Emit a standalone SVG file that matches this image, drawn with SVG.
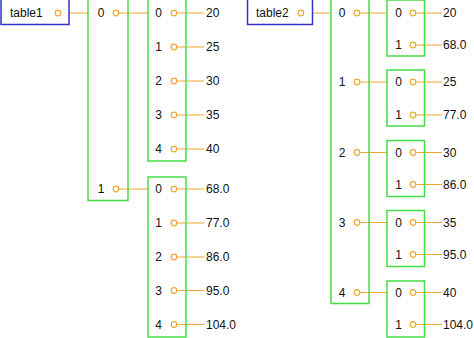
<svg xmlns="http://www.w3.org/2000/svg" width="474" height="338" viewBox="0 0 474 338">
<style>
text{font-family:"Liberation Sans",Arial,sans-serif;font-size:12px;fill:#111}
.m{text-anchor:middle}
.g{fill:none;stroke:#44dd44;stroke-width:1.5}
.b{fill:#fff;stroke:#3333cc;stroke-width:1.5}
.e{stroke:#f0a830;stroke-width:1.2;fill:none}
.c{fill:#fff;stroke:#f0a830;stroke-width:1.2}
</style>
<rect width="474" height="338" fill="#fff"/>
<g id="connectors">
<path class="e" d="M60.8 13H88M118.8 13H148M118.8 189H148"/>
<path class="e" d="M176.8 13H204M176.8 47H204M176.8 81H204M176.8 115H204M176.8 149H204"/>
<path class="e" d="M176.8 189H204M176.8 223H204M176.8 257H204M176.8 290.5H204M176.8 324.5H204"/>
<path class="e" d="M303.8 13H331M359.8 13H387M359.8 82H387M359.8 152.5H387M359.8 222.5H387M359.8 292.5H387"/>
<path class="e" d="M415.8 13H442M415.8 45H442M415.8 82H442M415.8 115H442M415.8 152.5H442M415.8 184.5H442M415.8 222.5H442M415.8 254.5H442M415.8 292.5H442M415.8 324.5H442"/>
</g>
<g id="table1">
<rect class="b" x="1" y="-2" width="68" height="26.5"/>
<text x="10" y="17">table1</text>
<circle class="c" cx="58" cy="13" r="2.8"/>
</g>
<g id="t1_list">
<rect class="g" x="88" y="-2" width="40" height="202.5"/>
<text class="m" x="101" y="17">0</text><circle class="c" cx="116" cy="13" r="2.8"/>
<text class="m" x="101" y="193">1</text><circle class="c" cx="116" cy="189" r="2.8"/>
</g>
<g id="t1_row0">
<rect class="g" x="148" y="-2" width="38" height="163"/>
<text class="m" x="158.5" y="17">0</text><circle class="c" cx="174" cy="13" r="2.8"/>
<text class="m" x="158.5" y="51">1</text><circle class="c" cx="174" cy="47" r="2.8"/>
<text class="m" x="158.5" y="85">2</text><circle class="c" cx="174" cy="81" r="2.8"/>
<text class="m" x="158.5" y="119">3</text><circle class="c" cx="174" cy="115" r="2.8"/>
<text class="m" x="158.5" y="153">4</text><circle class="c" cx="174" cy="149" r="2.8"/>
</g>
<g id="t1_row1">
<rect class="g" x="148" y="177" width="38" height="160"/>
<text class="m" x="158.5" y="193">0</text><circle class="c" cx="174" cy="189" r="2.8"/>
<text class="m" x="158.5" y="227">1</text><circle class="c" cx="174" cy="223" r="2.8"/>
<text class="m" x="158.5" y="261">2</text><circle class="c" cx="174" cy="257" r="2.8"/>
<text class="m" x="158.5" y="294.5">3</text><circle class="c" cx="174" cy="290.5" r="2.8"/>
<text class="m" x="158.5" y="328.5">4</text><circle class="c" cx="174" cy="324.5" r="2.8"/>
</g>
<g id="t1_values">
<text x="206" y="17">20</text>
<text x="206" y="51">25</text>
<text x="206" y="85">30</text>
<text x="206" y="119">35</text>
<text x="206" y="153">40</text>
<text x="206" y="193">68.0</text>
<text x="206" y="227">77.0</text>
<text x="206" y="261">86.0</text>
<text x="206" y="294.5">95.0</text>
<text x="206" y="328.5">104.0</text>
</g>
<g id="table2">
<rect class="b" x="247.5" y="-2" width="65" height="26.5"/>
<text x="256" y="17">table2</text>
<circle class="c" cx="301" cy="13" r="2.8"/>
</g>
<g id="t2_list">
<rect class="g" x="331" y="-2" width="38" height="305.5"/>
<text class="m" x="342" y="17">0</text><circle class="c" cx="357" cy="13" r="2.8"/>
<text class="m" x="342" y="86">1</text><circle class="c" cx="357" cy="82" r="2.8"/>
<text class="m" x="342" y="156.5">2</text><circle class="c" cx="357" cy="152.5" r="2.8"/>
<text class="m" x="342" y="226.5">3</text><circle class="c" cx="357" cy="222.5" r="2.8"/>
<text class="m" x="342" y="296.5">4</text><circle class="c" cx="357" cy="292.5" r="2.8"/>
</g>
<g id="t2_row0">
<rect class="g" x="387" y="0" width="37.5" height="56"/>
<text class="m" x="398.5" y="17">0</text><circle class="c" cx="413" cy="13" r="2.8"/>
<text class="m" x="398.5" y="49">1</text><circle class="c" cx="413" cy="45" r="2.8"/>
</g>
<g id="t2_row1">
<rect class="g" x="387" y="70" width="37.5" height="56"/>
<text class="m" x="398.5" y="86">0</text><circle class="c" cx="413" cy="82" r="2.8"/>
<text class="m" x="398.5" y="119">1</text><circle class="c" cx="413" cy="115" r="2.8"/>
</g>
<g id="t2_row2">
<rect class="g" x="387" y="140.5" width="37.5" height="56"/>
<text class="m" x="398.5" y="156.5">0</text><circle class="c" cx="413" cy="152.5" r="2.8"/>
<text class="m" x="398.5" y="188.5">1</text><circle class="c" cx="413" cy="184.5" r="2.8"/>
</g>
<g id="t2_row3">
<rect class="g" x="387" y="210.5" width="37.5" height="56"/>
<text class="m" x="398.5" y="226.5">0</text><circle class="c" cx="413" cy="222.5" r="2.8"/>
<text class="m" x="398.5" y="258.5">1</text><circle class="c" cx="413" cy="254.5" r="2.8"/>
</g>
<g id="t2_row4">
<rect class="g" x="387" y="281" width="37.5" height="56"/>
<text class="m" x="398.5" y="296.5">0</text><circle class="c" cx="413" cy="292.5" r="2.8"/>
<text class="m" x="398.5" y="328.5">1</text><circle class="c" cx="413" cy="324.5" r="2.8"/>
</g>
<g id="t2_values">
<text x="443" y="17">20</text>
<text x="443" y="49">68.0</text>
<text x="443" y="86">25</text>
<text x="443" y="119">77.0</text>
<text x="443" y="156.5">30</text>
<text x="443" y="188.5">86.0</text>
<text x="443" y="226.5">35</text>
<text x="443" y="258.5">95.0</text>
<text x="443" y="296.5">40</text>
<text x="443" y="328.5">104.0</text>
</g>
</svg>
